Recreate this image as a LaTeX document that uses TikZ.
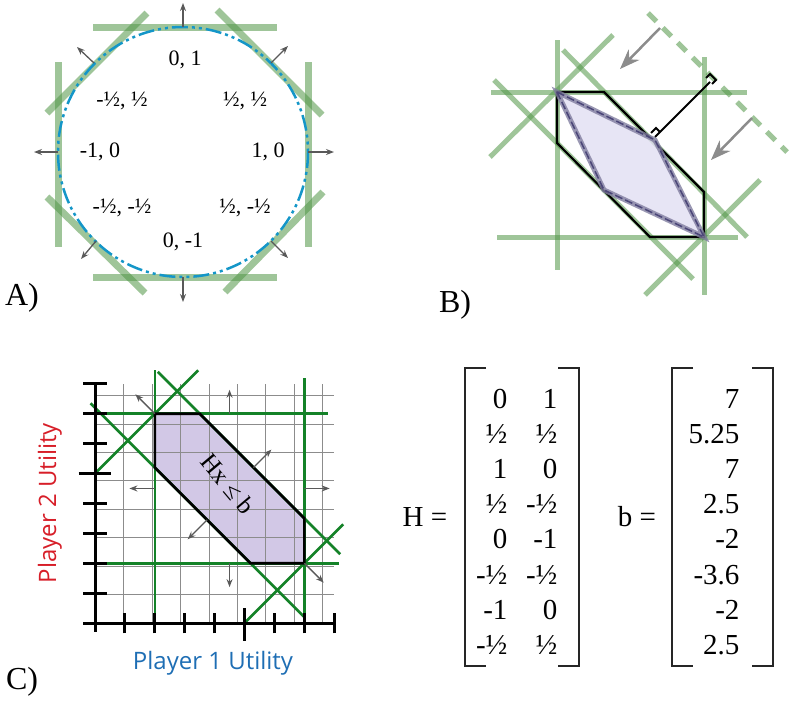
\documentclass[tikz,border=0pt]{standalone}
\usepackage{fontspec}
\setmainfont{Liberation Serif}
\newfontfamily\sansf{Open Sans}
\usetikzlibrary{arrows.meta}
\definecolor{lgreen}{RGB}{80,150,70}
\definecolor{dgreen}{RGB}{20,130,40}
\definecolor{cyanc}{RGB}{20,150,200}
\definecolor{lav}{RGB}{210,200,230}
\definecolor{lav2}{RGB}{225,222,242}
\definecolor{dpurp}{RGB}{75,70,120}
\definecolor{redc}{RGB}{215,30,40}
\definecolor{bluec}{RGB}{30,110,180}
\tikzset{
 gline/.style={lgreen,line width=7pt,opacity=0.55},
 cline/.style={dgreen,line width=2.6pt},
 narrow/.style={-{Stealth[length=8pt,width=6pt]},line width=1.3pt,black!65},
 bigarrow/.style={-{Stealth[length=20pt,width=15pt]},line width=2.5pt,black!45},
 lbl/.style={font=\fontsize{22}{24}\selectfont},
 mat/.style={font=\fontsize{29}{31}\selectfont},
 panel/.style={font=\fontsize{32}{34}\selectfont},
 brk/.style={line width=2.2pt,black!85},
 axis/.style={line width=3pt,black},
}
\begin{document}
\begin{tikzpicture}[x=1pt,y=-1pt]
\useasboundingbox (0,0) rectangle (791,702);
% ---------- Panel A
\draw[gline] (93,27)--(277,27);
\draw[gline] (93,277)--(277,277);
\draw[gline] (58,62)--(58,247);
\draw[gline] (308,62)--(308,247);
\draw[gline] (147,13)--(47,113);
\draw[gline] (217,10)--(322,115);
\draw[gline] (47,197)--(145,293);
\draw[gline] (323,192)--(225,292);
\draw[cyanc,line width=2.5pt,dash pattern=on 16pt off 4pt on 3pt off 4pt on 3pt off 4pt] (183,152) circle (125);
\coordinate (at) at (183,27); \coordinate (ab) at (183,277);
\coordinate (al) at (58,152); \coordinate (ar) at (308,152);
\coordinate (atr) at (271,63); \coordinate (atl) at (94,63);
\coordinate (abl) at (96,241); \coordinate (abr) at (271,241);
\draw[narrow] (at)--(183,3);
\draw[narrow] (ab)--(183,302);
\draw[narrow] (al)--(34,152);
\draw[narrow] (ar)--(334,152);
\draw[narrow] (atr)--(288,46);
\draw[narrow] (atl)--(77,47);
\draw[narrow] (abl)--(81,259);
\draw[narrow] (abr)--(288,258);
\node[lbl] (a1) at (185,60) {0, 1};
\node[lbl] (a2) at (122,101) {-½, ½};
\node[lbl] (a3) at (245,101) {½, ½};
\node[lbl] (a4) at (100,152) {-1, 0};
\node[lbl] (a5) at (268,152) {1, 0};
\node[lbl] (a6) at (122,208) {-½, -½};
\node[lbl] (a7) at (245,208) {½, -½};
\node[lbl] (a8) at (183,242) {0, -1};
\node[panel] (pa) at (22,298) {A)};
% ---------- Panel B
\draw[gline,line width=5pt] (557,40)--(557,270);
\draw[gline,line width=5pt] (704,57)--(704,295);
\draw[gline,line width=5pt] (491,92)--(747,92);
\draw[gline,line width=5pt] (497,237)--(738,237);
\draw[gline,line width=5pt] (613,35)--(490,157);
\draw[gline,line width=5pt] (563,50)--(747,237);
\draw[gline,line width=5pt] (494,80)--(693,279);
\draw[gline,line width=5pt] (645,295)--(760,180);
\draw[gline,line width=5pt,dash pattern=on 12pt off 9pt] (648,13)--(787,152);
\draw[line width=2.2pt,black] (557,92)--(604,92)--(704,192)--(704,237)--(650,237)--(557,143)--cycle;
\draw[fill=lav2,draw=dpurp!70,line width=5pt,opacity=0.8] (557,92)--(655,140)--(704,237)--(604,190)--cycle;
\draw[draw=dpurp,line width=1.5pt,dash pattern=on 8pt off 3pt] (557,92)--(655,140)--(704,237)--(604,190)--cycle;
\coordinate (p1) at (655,137); \coordinate (p2) at (710,82);
\draw[line width=1.8pt] (p1)--(p2);
\draw[line width=1.8pt] (651,133)--(656,128)--(660,132);
\draw[line width=1.8pt] (706,78)--(710,74)--(716,80)--(712,84);
\draw[bigarrow] (660,28)--(620,69);
\draw[bigarrow] (752,118)--(711,160);
\node[panel] (pb) at (455,305) {B)};
% ---------- Panel C
\begin{scope}[shift={(95,623)},x=29.9pt,y=29.9pt]
\fill[lav] (2,7)--(3.5,7)--(7,3.5)--(7,2)--(5.2,2)--(2,5.2)--cycle;
\draw[black!45,line width=0.6pt] (0,0) grid (8,8);
\draw[cline] (2,0)--(2,8.45);
\draw[cline] (7,0.2)--(7,8.2);
\draw[cline] (0,7)--(7.8,7);
\draw[cline] (0.4,2)--(8.15,2);
\draw[cline] (5,0)--(8.3,3.3);
\draw[cline] (0,5)--(3.45,8.45);
\draw[cline] (2.1,8.4)--(8.2,2.3);
\draw[cline] (-0.15,7.35)--(7,0.2);
\draw[line width=2.6pt] (2,7)--(3.5,7)--(7,3.5)--(7,2)--(5.2,2)--(2,5.2)--cycle;
\draw[axis] (0,-0.3)--(0,8);
\draw[axis] (-0.4,0)--(8,0);
\foreach \i in {1,2,3,4,6,7,8} {\draw[axis] (-0.4,\i)--(0.4,\i); \draw[axis] (\i,-0.35)--(\i,0.35);}
\draw[axis] (-0.55,5)--(0.55,5);
\draw[axis] (5,-0.6)--(5,0.5);
\coordinate (ct) at (4.5,7); \coordinate (cb) at (4.5,2);
\coordinate (cl) at (2,4.5); \coordinate (cr) at (7,4.5);
\draw[narrow] (ct)--(4.5,7.8);
\draw[narrow] (cb)--(4.5,1.2);
\draw[narrow] (cl)--(1.15,4.5);
\draw[narrow] (cr)--(7.85,4.5);
\draw[narrow] (2,7)--(1.35,7.65);
\draw[narrow] (7,2)--(7.65,1.35);
\draw[narrow] (5.3,5.2)--(5.9,5.8);
\draw[narrow] (3.75,3.45)--(3.1,2.8);
\node[rotate=-50,font=\fontsize{25}{27}\selectfont,inner sep=0pt] (hx) at (4.45,4.65) {Hx ≤ b};
\end{scope}
\node[rotate=90,text=redc,font=\sansf\fontsize{24}{26}\selectfont] (yl) at (50,503) {Player 2 Utility};
\node[text=bluec,font=\sansf\fontsize{24}{26}\selectfont] (xl) at (213,663) {Player 1 Utility};
\node[panel] (pc) at (22,682) {C)};
% ---------- Matrices
\node[mat] (hl) at (425,517) {H =};
\draw[brk] (486,368)--(465,368)--(465,666)--(486,666);
\draw[brk] (558,368)--(579,368)--(579,666)--(558,666);
\foreach \a/\b [count=\k] in {0/1,½/½,1/0,½/-½,0/-1,-½/-½,-1/0,-½/½} {
  \node[mat,anchor=base east] (hm\k a) at (511,{398+35.2*(\k-1)+10}) {\a};
  \node[mat,anchor=base east] (hm\k b) at (561,{398+35.2*(\k-1)+10}) {\b};
}
\node[mat] (bl) at (637,517) {b =};
\draw[brk] (693,368)--(672,368)--(672,666)--(693,666);
\draw[brk] (752,368)--(773,368)--(773,666)--(752,666);
\foreach \v [count=\k] in {7,5.25,7,2.5,-2,-3.6,-2,2.5} {
  \node[mat,anchor=base east] (bm\k) at (743,{398+35.2*(\k-1)+10}) {\v};
}
\end{tikzpicture}
\end{document}
